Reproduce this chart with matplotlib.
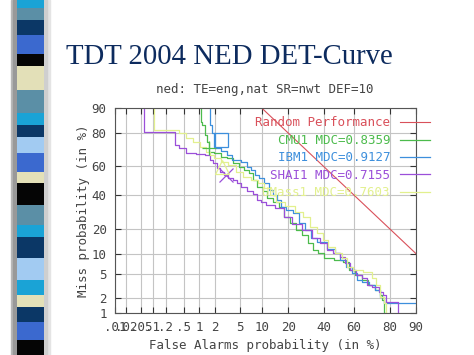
import matplotlib
matplotlib.use("Agg")
import matplotlib.pyplot as plt
from matplotlib.patches import Rectangle
from statistics import NormalDist

# ── data (percent) ──────────────────────────────────────────────
xtick_vals = [0.01, 0.02, 0.05, 0.1, 0.2, 0.5, 1, 2, 5, 10, 20, 40, 60, 80, 90]
xtick_labels = [".01", ".02", ".05", ".1", ".2", ".5", "1", "2", "5", "10", "20", "40", "60", "80", "90"]
ytick_vals = [1, 2, 5, 10, 20, 40, 60, 80, 90]
ytick_labels = ["1", "2", "5", "10", "20", "40", "60", "80", "90"]

rand_fa = [5, 95]
rand_miss = [95, 5]

cmu_fa = [1.09, 1.14, 1.20, 1.41, 1.49, 1.62, 2.24, 2.72, 3.53, 4.49, 5.33, 6.29, 7.38, 8.18, 9.5,
          11.0, 12.6, 15.1, 16.8, 19.9, 22.3, 25.9, 28.7, 31.6, 35.6, 37.7, 42.9, 50.8, 55.2, 58.4,
          62.5, 66.8, 70.7, 74.2, 76.2, 76.8, 77.8, 77.8]
cmu_miss = [99, 85.0, 83.7, 79.0, 75.3, 69.6, 68.8, 66.5, 65.7, 62.4, 59.9, 57.6, 55.5, 50.6, 45.9,
            42.9, 38.2, 35.5, 32.3, 26.4, 22.9, 19.4, 17.0, 13.7, 11.2, 10.2, 8.7, 8.2, 7.7, 5.8,
            4.9, 4.05, 3.34, 2.74, 2.23, 1.80, 1.0, 0.5]

ibm_fa = [1.58, 1.62, 1.83, 2.12, 2.93, 3.28, 4.49, 5.95, 6.56, 7.69, 8.6, 10.0, 11.5, 13.2, 14.4,
          16.4, 17.3, 20.9, 24.2, 26.9, 30.4, 33.4, 38.8, 45.3, 49.4, 52.7, 57.3, 60.6, 62.5, 67.8,
          70.7, 74.2, 76.8, 78.3, 95]
ibm_miss = [99, 83.7, 80.0, 71.7, 70.1, 67.6, 64.4, 63.2, 59.9, 57.6, 54.1, 52.0, 48.5, 43.6, 40.2,
            36.8, 32.5, 30.4, 28.6, 22.9, 19.4, 15.7, 14.1, 11.5, 10.2, 8.2, 6.55, 5.25, 4.05, 3.8,
            3.34, 2.74, 2.07, 1.6, 1.6]

shai_fa = [0.062, 0.062, 0.33, 0.33, 0.48, 0.67, 1.14, 1.49, 1.73, 1.98, 2.24, 2.58, 3.04, 3.53,
           4.23, 4.70, 5.57, 7.0, 8.18, 8.96, 10.4, 12.6, 16.4, 19.9, 24.2, 29.7, 35.6, 39.6, 44.2,
           48.6, 52.7, 56.0, 59.3, 62.5, 66.8, 68.6, 73.5, 76.2, 77.8, 79.3, 83.7, 83.7]
shai_miss = [99, 80.7, 80.7, 73.6, 72.1, 68.8, 68.0, 67.6, 64.4, 62.4, 59.0, 56.4, 54.1, 52.0,
             50.6, 48.5, 45.7, 42.9, 40.9, 36.8, 35.5, 33.6, 31.7, 26.4, 22.4, 19.4, 15.7, 13.7, 11.2,
             10.2, 9.1, 7.4, 5.8, 4.9, 4.4, 3.34, 3.12, 2.55, 2.23, 1.65, 1.65, 0.5]

umass_fa = [0.104, 0.104, 0.33, 0.48, 0.67, 0.91, 1.20, 1.49, 1.73, 2.12, 2.93, 3.75, 5.03, 6.29,
            8.18, 10.0, 11.5, 13.7, 16.4, 20.9, 25.9, 29.7, 33.4, 37.7, 40.9, 45.3, 49.4, 54.1, 57.3,
            61.7, 69.8, 71.5, 74.2, 76.8, 77.8, 78.8, 78.8]
umass_miss = [99, 81.5, 81.5, 80.0, 77.5, 75.5, 72.6, 69.6, 67.6, 65.7, 63.2, 61.0, 56.4, 52.9,
              50.6, 48.5, 45.0, 40.2, 35.7, 32.9, 29.2, 26.2, 20.9, 18.0, 14.9, 12.3, 10.2, 8.7, 6.55,
              5.8, 5.5, 4.4, 3.34, 2.07, 1.55, 1.0, 0.5]

# minimum DET cost points
mdc_fa = [1.55, 2.47, 3.04, 2.61]
mdc_miss = [71.9, 76.4, 54.1, 59.7]

labels = ["CMU1 MDC=0.8359", "IBM1 MDC=0.9127", "SHAI1 MDC=0.7155", "UMass1 MDC=0.7603"]

# slide side strip (decoration), top to bottom
strip_heights = [8, 12, 15, 19, 12, 24, 23, 12, 12, 16, 19, 11, 22, 20, 12, 21, 22, 15, 12, 15, 18, 15]
strip_colors = ["#1aa3d6", "#5b8fa6", "#0b3766", "#3b69cf", "#050505", "#e3e0b8", "#5b8fa6",
                "#1aa3d6", "#0b3766", "#a2cbf2", "#3b69cf", "#e3e0b8", "#050505", "#5b8fa6",
                "#1aa3d6", "#0b3766", "#a2cbf2", "#1aa3d6", "#e3e0b8", "#0b3766", "#3b69cf",
                "#050505"]

nd = NormalDist()


def probit(pcts):
    return [nd.inv_cdf(p / 100.0) for p in pcts]


W, H = 474, 355
TXT = "#444444"
MONO = "DejaVu Sans Mono"

fig = plt.figure(figsize=(W / 100, H / 100), dpi=100)
fig.patch.set_facecolor("white")

# ── side strip ──
for x0, x1, c in [(11, 18, "#b8b8b8"), (13, 18, "#999999"), (44, 50, "#e4e4e4"), (44, 47, "#cfcfcf")]:
    fig.patches.append(Rectangle((x0 / W, 0), (x1 - x0) / W, 1, transform=fig.transFigure,
                                 color=c, zorder=0))
top = 0
for h, c in zip(strip_heights, strip_colors):
    fig.patches.append(Rectangle((17 / W, 1 - (top + h) / H), 27 / W, h / H,
                                 transform=fig.transFigure, color=c, lw=0, zorder=1))
    top += h

# ── titles ──
fig.text(229.5 / W, 1 - 64 / H, "TDT 2004 NED DET-Curve", family="Liberation Serif",
         fontsize=20.7, color="#0d2b5e", ha="center", va="baseline")
fig.text(264.5 / W, 1 - 90 / H, "ned: TE=eng,nat SR=nwt DEF=10", family=MONO,
         fontsize=9, color=TXT, ha="center", va="center")

# ── DET axes ──
ax = fig.add_axes([115 / W, 1 - 313 / H, 301 / W, 205 / H])
ax.set_xlim(nd.inv_cdf(0.0001), nd.inv_cdf(0.9))
ax.set_ylim(nd.inv_cdf(0.01), nd.inv_cdf(0.9))
ax.set_xticks(probit(xtick_vals))
ax.set_xticklabels(xtick_labels)
ax.set_yticks(probit(ytick_vals))
ax.set_yticklabels(ytick_labels)
ax.tick_params(direction="in", length=4, width=0.8, color="#333333", top=True, right=True,
               labelsize=9, labelcolor=TXT, pad=6)
for lab in ax.get_xticklabels() + ax.get_yticklabels():
    lab.set_family(MONO)
ax.grid(True, color="#c4c4c4", lw=0.8)
ax.set_axisbelow(True)
for sp in ax.spines.values():
    sp.set_color("#555555")
    sp.set_linewidth(0.8)

ax.plot(probit(rand_fa), probit(rand_miss), color="#d9505a", lw=0.8, label="Random Performance")
series = [(cmu_fa, cmu_miss, "#4cbb4c"), (ibm_fa, ibm_miss, "#3d8fdc"),
          (shai_fa, shai_miss, "#9b4fd9"), (umass_fa, umass_miss, "#e2f08e")]
for (fa, miss, c), lab in zip(series, labels):
    ax.plot(probit(fa), probit(miss), color=c, lw=0.9, drawstyle="steps-mid", label=lab)

for fa, miss, (_, _, c), m in zip(mdc_fa, mdc_miss, series, ["+", "s", "x", "^"]):
    ax.plot(probit([fa]), probit([miss]), linestyle="none", marker=m, ms=10, mew=0.9,
            mfc="none", mec=c)

ax.legend(loc="upper right", bbox_to_anchor=(430 / W, 1 - 116.5 / H), bbox_transform=fig.transFigure,
          frameon=False, markerfirst=False, labelcolor="linecolor", borderpad=0, borderaxespad=0,
          handlelength=2.4, handletextpad=0.8, labelspacing=0.35,
          prop={"family": MONO, "size": 9})

fig.text(83 / W, 1 - 211 / H, "Miss probability (in %)", family=MONO, fontsize=9, color=TXT,
         rotation=90, ha="center", va="center")
fig.text(265 / W, 1 - 345 / H, "False Alarms probability (in %)", family=MONO, fontsize=9,
         color=TXT, ha="center", va="center")

fig.savefig("out.png", dpi=100)
